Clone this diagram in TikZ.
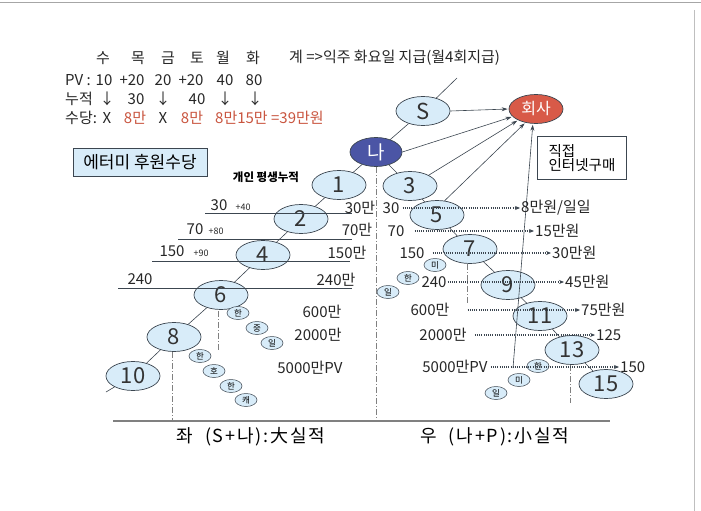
\documentclass[tikz,border=0pt]{standalone}
\usepackage{fontspec}
\setmainfont{Noto Sans CJK KR}
\usetikzlibrary{arrows.meta,shapes.geometric}
\definecolor{nodeblue}{HTML}{D8ECF9}
\definecolor{edgec}{HTML}{3C4650}
\definecolor{naBlue}{HTML}{4B55A5}
\definecolor{hoesaRed}{HTML}{D85A48}
\definecolor{redtxt}{HTML}{C9553F}
\newcommand\myfs[1]{\fontsize{#1}{#1}\selectfont}
\begin{document}
\begin{tikzpicture}[x=1pt,y=-1pt,
  bignode/.style={ellipse, draw=edgec, fill=nodeblue, line width=0.7pt, minimum width=54pt, minimum height=29pt, inner sep=0pt, font=\myfs{22}, text=black!80},
  smallnode/.style={ellipse, draw=edgec, fill=nodeblue, line width=0.5pt, minimum width=22pt, minimum height=13pt, inner sep=0pt, font=\myfs{8.5}},
  txt/.style={inner sep=0pt, font=\myfs{15}, text=black!85},
  smalltxt/.style={inner sep=0pt, font=\myfs{9}, text=black!85},
  redt/.style={txt, text=redtxt},
  link/.style={draw=edgec, line width=0.6pt},
  arr/.style={draw=edgec, line width=0.6pt, -{Stealth[length=6pt,width=4pt]}, shorten >=1pt},
  dotarrow/.style={draw=edgec, line width=1.3pt, dash pattern=on 1pt off 1.2pt, -{Stealth[length=5pt,width=4pt]}},
  hline/.style={draw=edgec, line width=0.7pt},
  vguide/.style={draw=gray, line width=0.6pt, dash pattern=on 6pt off 2pt on 1pt off 2pt},
  bottomlabel/.style={inner sep=0pt, font={\myfs{18}\addfontfeature{LetterSpace=10}}},
]
\useasboundingbox (0,0) rectangle (701,511);
% page frame
\coordinate (fr1) at (0,2); \coordinate (fr2) at (701,2);
\coordinate (fr3) at (694,10); \coordinate (fr4) at (694,511);
\draw[gray!70, line width=0.8pt] (fr1) -- (fr2);
\draw[gray!50, line width=0.6pt] (fr3) -- (fr4);

% ---- top legend ----
\node[txt] (d1) at (103,58) {수};
\node[txt] (d2) at (138,58) {목};
\node[txt] (d3) at (168,58) {금};
\node[txt] (d4) at (197,58) {토};
\node[txt] (d5) at (223,58) {월};
\node[txt] (d6) at (253,58) {화};
\node[txt, anchor=west] (d7) at (289,58) {계 =>익주 화요일 지급(월4회지급)};

\node[txt, anchor=west] (pv) at (65,80) {PV :};
\node[txt] (pv1) at (104,80) {10};
\node[txt] (pv2) at (132,80) {+20};
\node[txt] (pv3) at (163,80) {20};
\node[txt] (pv4) at (191,80) {+20};
\node[txt] (pv5) at (225,80) {40};
\node[txt] (pv6) at (254,80) {80};

\node[txt, anchor=west] (nj) at (65,99) {누적};
\node[txt] (nj1) at (107,99) {↓};
\node[txt] (nj2) at (136,99) {30};
\node[txt] (nj3) at (163,99) {↓};
\node[txt] (nj4) at (197,99) {40};
\node[txt] (nj5) at (225,99) {↓};
\node[txt] (nj6) at (255,99) {↓};

\node[txt, anchor=west] (sd) at (65,118) {수당:};
\node[txt] (sd1) at (107,118) {X};
\node[redt] (sd2) at (135,118) {8만};
\node[txt] (sd3) at (163,118) {X};
\node[redt] (sd4) at (192,118) {8만};
\node[redt, anchor=west] (sd5) at (215,118) {8만15만 =39만원};

\node[draw=edgec, fill=nodeblue, line width=0.8pt, minimum width=134pt, minimum height=28pt, inner sep=0pt, font=\myfs{17}] (legend) at (140,162) {에터미 후원수당};
\node[inner sep=0pt, font=\myfs{11.5}\bfseries] (gp) at (266,177) {개인 평생누적};

\node[draw=edgec, line width=0.7pt, minimum width=89pt, minimum height=43pt, align=left, inner sep=0pt, font=\myfs{14.5}] (direct) at (582,158) {직접\\인터넷구매};

% ---- main nodes ----
\node[bignode] (S) at (423,111) {S};
\node[bignode, fill=hoesaRed, text=white, font=\myfs{16}] (hoesa) at (536,109) {회사};
\node[bignode, fill=naBlue, text=white, font=\myfs{19}, minimum width=52pt] (na) at (376,152) {나};
\node[bignode] (n1) at (339,185) {1};
\node[bignode] (n3) at (410,186) {3};
\node[bignode] (n2) at (301,219) {2};
\node[bignode] (n5) at (437,215) {5};
\node[bignode] (n4) at (263,255) {4};
\node[bignode] (n7) at (470,249) {7};
\node[bignode] (n6) at (221,295) {6};
\node[bignode] (n9) at (508,285) {9};
\node[bignode] (n8) at (174,337) {8};
\node[bignode] (n11) at (540,316) {11};
\node[bignode] (n10) at (133,376) {10};
\node[bignode] (n13) at (572,350) {13};
\node[bignode] (n15) at (606,384) {15};

% small nodes
\node[smallnode] (a1) at (238,313) {한};
\node[smallnode] (a2) at (257,328) {중};
\node[smallnode] (a3) at (272,343) {일};
\node[smallnode] (b1) at (200,356) {한};
\node[smallnode] (b2) at (214,371) {호};
\node[smallnode] (b3) at (231,386) {한};
\node[smallnode] (b4) at (246,400) {캐};
\node[smallnode] (c1) at (435,265) {미};
\node[smallnode] (c2) at (408,278) {한};
\node[smallnode] (c3) at (388,292) {일};
\node[smallnode] (e1) at (538,366) {한};
\node[smallnode] (e2) at (519,380) {미};
\node[smallnode] (e3) at (496,393) {일};

% tree links
\coordinate (Stop) at (457,78);
\coordinate (t10) at (106,392);
\draw[link] (S) -- (Stop);
\draw[link] (S) -- (na);
\draw[link] (na) -- (n1);
\draw[link] (na) -- (n3);
\draw[link] (n1) -- (n2);
\draw[link] (n2) -- (n4);
\draw[link] (n4) -- (n6);
\draw[link] (n6) -- (n8);
\draw[link] (n8) -- (n10);
\draw[link] (n10) -- (t10);
\draw[link] (n3) -- (n5);
\draw[link] (n5) -- (n7);
\draw[link] (n7) -- (n9);
\draw[link] (n9) -- (n11);
\draw[link] (n11) -- (n13);
\draw[link] (n13) -- (n15);

% arrows to company
\coordinate (dp) at (513,368);
\draw[arr] (S.east) -- (hoesa.west);
\draw[arr] (na.east) -- (hoesa.198);
\draw[arr] (n3.30) -- (hoesa.212);
\draw[arr] (n5.62) -- (hoesa.232);
\draw[arr] (dp) -- (hoesa.258);

% vertical guides
\coordinate (vna) at (376,421);
\coordinate (v6a) at (218,311); \coordinate (v6b) at (218,350);
\coordinate (v8a) at (172,352); \coordinate (v8b) at (172,421);
\coordinate (v7a) at (467,264); \coordinate (v7b) at (467,303);
\coordinate (v13a) at (570,365); \coordinate (v13b) at (570,403);
\draw[vguide] (na.south) -- (vna);
\draw[vguide] (v6a) -- (v6b);
\draw[vguide] (v8a) -- (v8b);
\draw[vguide] (v7a) -- (v7b);
\draw[vguide] (v13a) -- (v13b);

% bottom line
\coordinate (bl1) at (113,421); \coordinate (bl2) at (610,421);
\draw[gray, line width=1.2pt] (bl1) -- (bl2);
\node[bottomlabel] (left) at (251,437) {좌\ \ (S+나):大실적};
\node[bottomlabel] (right) at (495,437) {우\ \ (나+P):小실적};

% left horizontal lines and labels
\coordinate (h1a) at (205,213); \coordinate (h1b) at (352,213);
\coordinate (h2a) at (178,239); \coordinate (h2b) at (352,239);
\coordinate (h3a) at (152,261); \coordinate (h3b) at (350,261);
\coordinate (h4a) at (118,288); \coordinate (h4b) at (352,288);
\draw[hline] (h1a) -- (h1b);
\draw[hline] (h2a) -- (h2b);
\draw[hline] (h3a) -- (h3b);
\draw[hline] (h4a) -- (h4b);
\node[txt] (l30) at (219,205) {30};
\node[smalltxt] (l30p) at (243,207) {+40};
\node[txt] (l70) at (195,229) {70};
\node[smalltxt] (l70p) at (216,231) {+80};
\node[txt] (l150) at (172,251) {150};
\node[smalltxt] (l150p) at (201,253) {+90};
\node[txt] (l240) at (140,279) {240};
\node[txt] (m30) at (360,208) {30만};
\node[txt] (m70) at (357,230) {70만};
\node[txt] (m150) at (347,253) {150만};
\node[txt] (m240) at (336,280) {240만};
\node[txt] (m600) at (322,312) {600만};
\node[txt] (m2000) at (318,335) {2000만};
\node[txt] (m5000) at (310,368) {5000만PV};

% right side labels and dotted arrows
\node[txt] (r30) at (391,208) {30};
\node[txt, anchor=west] (p30) at (521,208) {8만원/일일};
\node[txt] (r70) at (396,231) {70};
\node[txt, anchor=west] (p70) at (535,231) {15만원};
\node[txt] (r150) at (412,253) {150};
\node[txt, anchor=west] (p150) at (552,253) {30만원};
\node[txt] (r240) at (434,282) {240};
\node[txt, anchor=west] (p240) at (565,282) {45만원};
\node[txt] (r600) at (430,310) {600만};
\node[txt, anchor=west] (p600) at (581,310) {75만원};
\node[txt] (r2000) at (443,335) {2000만};
\node[txt, anchor=west] (p2000) at (596,335) {125};
\node[txt] (r5000) at (455,367) {5000만PV};
\node[txt, anchor=west] (p5000) at (620,367) {150};

\draw[dotarrow] ([xshift=3pt]r30.east) -- ([xshift=-1pt]p30.west);
\draw[dotarrow] ([xshift=10pt]r70.east) -- ([xshift=-1pt]p70.west);
\draw[dotarrow] ([xshift=8pt]r150.east) -- ([xshift=-1pt]p150.west);
\draw[dotarrow] ([xshift=1pt]r240.east) -- ([xshift=-1pt]p240.west);
\draw[dotarrow] ([xshift=18pt]r600.east) -- ([xshift=-1pt]p600.west);
\draw[dotarrow] ([xshift=8pt]r2000.east) -- ([xshift=-1pt]p2000.west);
\draw[dotarrow] ([xshift=3pt]r5000.east) -- ([xshift=-1pt]p5000.west);
\end{tikzpicture}
\end{document}
